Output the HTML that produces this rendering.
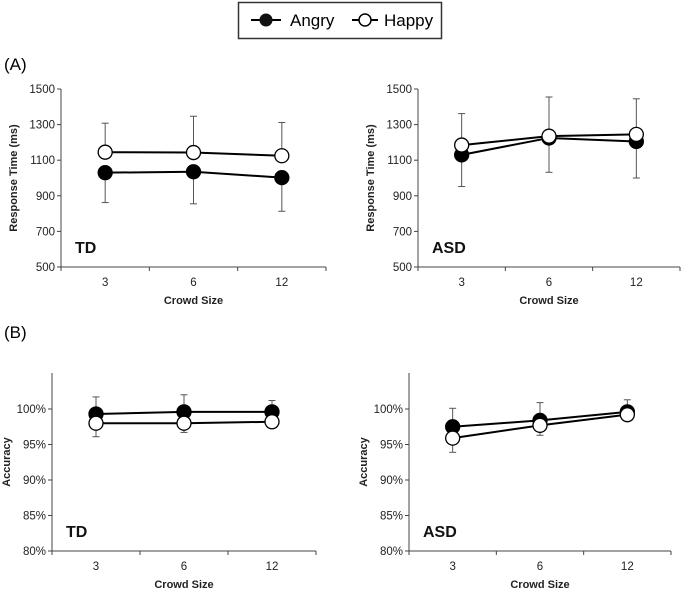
<!DOCTYPE html>
<html><head><meta charset="utf-8"><style>
body{margin:0;background:#fff}
svg{display:block;font-family:"Liberation Sans",sans-serif}
</style></head><body>
<svg id="fig" width="685" height="590">
<g>
<rect x="238.5" y="2.5" width="203" height="36" fill="#fff" stroke="#333" stroke-width="1.5"/>
<g>
<line x1="251" y1="20" x2="281" y2="20" stroke="#000" stroke-width="2"/>
<circle cx="266" cy="20" r="6.5" fill="#111"/>
<text x="290" y="26" font-size="17">Angry</text></g>
<g>
<line x1="352" y1="20" x2="378" y2="20" stroke="#000" stroke-width="2"/>
<circle cx="365" cy="20" r="6" fill="#fff" stroke="#000" stroke-width="1.5"/>
<text x="384" y="26" font-size="17">Happy</text></g>
</g>
<text x="4" y="70" font-size="17">(A)</text>
<text x="4" y="338" font-size="17">(B)</text>
</svg>
<script>
const categories=["3","6","12"];
const rtTicks=[500,700,900,1100,1300,1500];
const accTicks=[80,85,90,95,100];
const rtTDAngry=[1030,1035,1002];
const rtTDAngryLow=[862,855,813];
const rtTDHappy=[1145,1143,1125];
const rtTDHappyHigh=[1308,1347,1312];
const rtASDAngry=[1130,1225,1205];
const rtASDAngryLow=[952,1032,1000];
const rtASDHappy=[1185,1235,1245];
const rtASDHappyHigh=[1362,1455,1445];
const accTDAngry=[99.3,99.6,99.6];
const accTDAngryHigh=[101.7,102.0,101.2];
const accTDHappy=[98.0,98.0,98.2];
const accTDHappyLow=[96.1,96.7,97.8];
const accASDAngry=[97.5,98.4,99.6];
const accASDAngryHigh=[100.1,100.9,101.3];
const accASDHappy=[95.9,97.7,99.2];
const accASDHappyLow=[93.9,96.3,98.5];

const NS="http://www.w3.org/2000/svg";
const svg=document.getElementById('fig');
function mk(tag,attrs,parent,txt){const e=document.createElementNS(NS,tag);for(const k in attrs)e.setAttribute(k,attrs[k]);if(txt!==undefined)e.textContent=txt;parent.appendChild(e);return e;}

function panel(o){
  const g=mk('g',{},svg);
  
  
  const y=v=>o.yB+(v-o.min)/(o.max-o.min)*(o.yT-o.yB);
  const step=(o.xEnd-o.x0)/3;
  const x=i=>o.x0+step*(i+0.5);
  const ax=mk('g',{stroke:'#444','stroke-width':1},g);
  
  
  mk('line',{x1:o.x0,y1:o.yTop,x2:o.x0,y2:o.yB},ax);
  mk('line',{x1:o.x0,y1:o.yB,x2:o.xEnd,y2:o.yB},ax);
  for(let i=0;i<=3;i++){mk('line',{x1:o.x0+step*i,y1:o.yB,x2:o.x0+step*i,y2:o.yB+4},ax);}
  o.ticks.forEach(t=>{
    mk('line',{x1:o.x0-4,y1:y(t),x2:o.x0,y2:y(t)},ax);
    const tl=mk('text',{x:o.x0-6,y:y(t)+4,'font-size':11.5,'text-anchor':'end',fill:'#222'},g,o.fmt(t));
    
    
  });
  categories.forEach((c,i)=>{
    const tl=mk('text',{x:x(i),y:o.yB+19,'font-size':11.5,'text-anchor':'middle',fill:'#222'},g,c);
    
    
  });
  const xt=mk('text',{x:(o.x0+o.xEnd)/2,y:o.yB+37,'font-size':11,'font-weight':'bold','text-anchor':'middle',fill:'#222'},g,'Crowd Size');
  
  
  const yc=(o.yTop+o.yB)/2;
  const yt=mk('text',{x:o.x0-o.yTitleOff,y:yc,'font-size':11,'font-weight':'bold','text-anchor':'middle',fill:'#222',transform:`rotate(-90 ${o.x0-o.yTitleOff} ${yc})`},g,o.yTitle);
  
  
  const gl=mk('text',{x:o.x0+14,y:o.yB-14,'font-size':16,'font-weight':'bold',fill:'#111'},g,o.group);
  
  
  o.errs.forEach(e=>{
    e.vals.forEach((v,i)=>{
      const eb=mk('g',{stroke:'#555','stroke-width':1},g);
      
      
      mk('line',{x1:x(i),y1:y(e.mean[i]),x2:x(i),y2:y(v)},eb);
      mk('line',{x1:x(i)-3.5,y1:y(v),x2:x(i)+3.5,y2:y(v)},eb);
    });
  });
  o.series.forEach(s=>{
    const sg=mk('g',{},g);
    
    
    mk('polyline',{points:s.vals.map((v,i)=>x(i)+','+y(v)).join(' '),fill:'none',stroke:'#000','stroke-width':2},sg);
    s.vals.forEach((v,i)=>{
      const c=mk('circle',{cx:x(i),cy:y(v),r:7,fill:s.fill,stroke:'#000','stroke-width':1.3},sg);
      
      
    });
  });
}
const rtFmt=t=>String(t), accFmt=t=>t+'%';
panel({name:'chart-a-td',x0:61,xEnd:326,yT:89,yB:267,yTop:89,min:500,max:1500,ticks:rtTicks,fmt:rtFmt,yTitle:'Response Time (ms)',yTitleOff:44,group:'TD',
  errs:[{mean:rtTDAngry,vals:rtTDAngryLow},{mean:rtTDHappy,vals:rtTDHappyHigh}],
  series:[{name:'series-angry',vals:rtTDAngry,fill:'#000'},{name:'series-happy',vals:rtTDHappy,fill:'#fff'}]});
panel({name:'chart-a-asd',x0:418,xEnd:680,yT:89,yB:267,yTop:89,min:500,max:1500,ticks:rtTicks,fmt:rtFmt,yTitle:'Response Time (ms)',yTitleOff:44,group:'ASD',
  errs:[{mean:rtASDAngry,vals:rtASDAngryLow},{mean:rtASDHappy,vals:rtASDHappyHigh}],
  series:[{name:'series-angry',vals:rtASDAngry,fill:'#000'},{name:'series-happy',vals:rtASDHappy,fill:'#fff'}]});
panel({name:'chart-b-td',x0:52,xEnd:316,yT:409,yB:551,yTop:373,min:80,max:100,ticks:accTicks,fmt:accFmt,yTitle:'Accuracy',yTitleOff:42,group:'TD',
  errs:[{mean:accTDAngry,vals:accTDAngryHigh},{mean:accTDHappy,vals:accTDHappyLow}],
  series:[{name:'series-angry',vals:accTDAngry,fill:'#000'},{name:'series-happy',vals:accTDHappy,fill:'#fff'}]});
panel({name:'chart-b-asd',x0:409,xEnd:671,yT:409,yB:551,yTop:373,min:80,max:100,ticks:accTicks,fmt:accFmt,yTitle:'Accuracy',yTitleOff:42,group:'ASD',
  errs:[{mean:accASDAngry,vals:accASDAngryHigh},{mean:accASDHappy,vals:accASDHappyLow}],
  series:[{name:'series-angry',vals:accASDAngry,fill:'#000'},{name:'series-happy',vals:accASDHappy,fill:'#fff'}]});
</script>
</body></html>
